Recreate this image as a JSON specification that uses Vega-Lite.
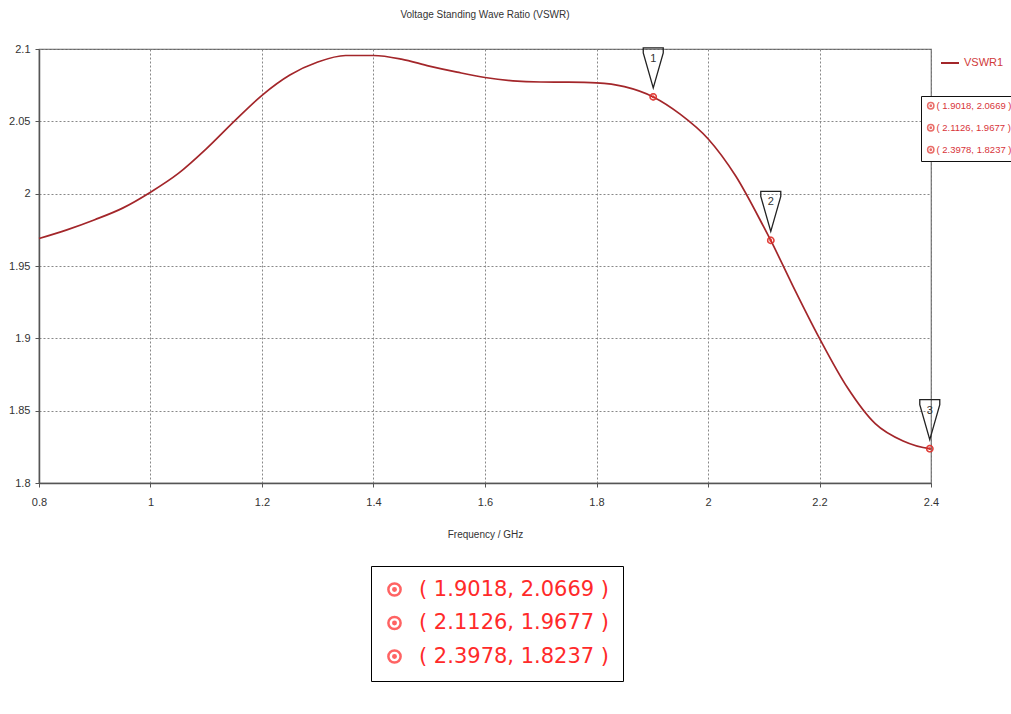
{
  "$schema": "https://vega.github.io/schema/vega-lite/v6.json",
  "width": 892,
  "height": 434,
  "autosize": {"type": "none"},
  "padding": {"left": 39, "top": 49, "right": 80, "bottom": 231},
  "background": "white",
  "title": {
    "text": "Voltage Standing Wave Ratio (VSWR)",
    "font": "Liberation Sans",
    "fontSize": 10,
    "fontWeight": "normal",
    "color": "#333333",
    "anchor": "middle",
    "offset": 23
  },
  "datasets": {
    "curve": [
      {"f": 0.8, "vswr": 1.969},
      {"f": 0.85, "vswr": 1.975},
      {"f": 0.9, "vswr": 1.982},
      {"f": 0.95, "vswr": 1.990},
      {"f": 1.0, "vswr": 2.001},
      {"f": 1.05, "vswr": 2.014},
      {"f": 1.1, "vswr": 2.031},
      {"f": 1.15, "vswr": 2.050},
      {"f": 1.2, "vswr": 2.068},
      {"f": 1.25, "vswr": 2.082},
      {"f": 1.3, "vswr": 2.091},
      {"f": 1.35, "vswr": 2.0955},
      {"f": 1.4, "vswr": 2.0955},
      {"f": 1.45, "vswr": 2.093},
      {"f": 1.5, "vswr": 2.0882},
      {"f": 1.55, "vswr": 2.084},
      {"f": 1.6, "vswr": 2.0803},
      {"f": 1.65, "vswr": 2.078},
      {"f": 1.7, "vswr": 2.0772},
      {"f": 1.75, "vswr": 2.0771},
      {"f": 1.8, "vswr": 2.0766},
      {"f": 1.85, "vswr": 2.074},
      {"f": 1.9018, "vswr": 2.0669},
      {"f": 1.95, "vswr": 2.055},
      {"f": 2.0, "vswr": 2.038},
      {"f": 2.05, "vswr": 2.012},
      {"f": 2.1, "vswr": 1.977},
      {"f": 2.1126, "vswr": 1.9677},
      {"f": 2.15, "vswr": 1.938},
      {"f": 2.2, "vswr": 1.900},
      {"f": 2.25, "vswr": 1.866},
      {"f": 2.3, "vswr": 1.841},
      {"f": 2.35, "vswr": 1.829},
      {"f": 2.3978, "vswr": 1.8237},
      {"f": 2.4, "vswr": 1.8236}
    ],
    "markers": [
      {"marker": "1", "f": 1.9018, "vswr": 2.0669, "label": "( 1.9018, 2.0669 )"},
      {"marker": "2", "f": 2.1126, "vswr": 1.9677, "label": "( 2.1126, 1.9677 )"},
      {"marker": "3", "f": 2.3978, "vswr": 1.8237, "label": "( 2.3978, 1.8237 )"}
    ]
  },
  "layer": [
    {
      "data": {"name": "curve"},
      "mark": {"type": "line", "interpolate": "monotone", "strokeWidth": 1.7},
      "encoding": {
        "x": {
          "field": "f",
          "type": "quantitative",
          "scale": {"domain": [0.8, 2.4], "nice": false, "zero": false},
          "axis": {
            "values": [0.8, 1, 1.2, 1.4, 1.6, 1.8, 2, 2.2, 2.4],
            "format": "~g",
            "title": "Frequency / GHz",
            "titlePadding": 22,
            "labelPadding": 9,
            "labelFlush": false
          }
        },
        "y": {
          "field": "vswr",
          "type": "quantitative",
          "scale": {"domain": [1.8, 2.1], "nice": false, "zero": false},
          "axis": {
            "values": [1.8, 1.85, 1.9, 1.95, 2, 2.05, 2.1],
            "format": "~g",
            "title": null,
            "labelPadding": 5,
            "labelFlush": false
          }
        },
        "color": {
          "datum": "VSWR1",
          "type": "nominal",
          "scale": {"range": ["#a3262a"]},
          "legend": {
            "title": null,
            "orient": "none",
            "legendX": 901,
            "legendY": 4,
            "padding": 0,
            "symbolType": "stroke",
            "symbolSize": 324,
            "symbolStrokeWidth": 2,
            "labelFont": "Liberation Sans",
            "labelFontSize": 11,
            "labelColor": "#d03a3a",
            "labelOffset": 4
          }
        }
      }
    },
    {
      "data": {"name": "markers"},
      "mark": {"type": "point", "filled": false, "stroke": "#e0302a", "strokeWidth": 1.4, "size": 40},
      "encoding": {
        "x": {"field": "f", "type": "quantitative"},
        "y": {"field": "vswr", "type": "quantitative"},
        "shape": {
          "field": "label",
          "type": "nominal",
          "scale": {"range": [
            "M-1,0A1,1,0,1,0,1,0A1,1,0,1,0,-1,0ZM-0.2,0A0.2,0.2,0,1,0,0.2,0A0.2,0.2,0,1,0,-0.2,0Z",
            "M-1,0A1,1,0,1,0,1,0A1,1,0,1,0,-1,0ZM-0.2,0A0.2,0.2,0,1,0,0.2,0A0.2,0.2,0,1,0,-0.2,0Z",
            "M-1,0A1,1,0,1,0,1,0A1,1,0,1,0,-1,0ZM-0.2,0A0.2,0.2,0,1,0,0.2,0A0.2,0.2,0,1,0,-0.2,0Z"
          ]},
          "legend": {
            "title": null,
            "orient": "none",
            "legendX": 882,
            "legendY": 47,
            "padding": 5,
            "strokeColor": "#111111",
            "fillColor": "white",
            "symbolSize": 40,
            "symbolStrokeColor": "#e0302a",
            "symbolStrokeWidth": 1.5,
            "symbolFillColor": "transparent",
            "labelFont": "Liberation Sans",
            "labelFontSize": 9.5,
            "labelColor": "#d8343a",
            "labelOffset": 1,
            "rowPadding": 9,
            "labelLimit": 300
          }
        }
      }
    },
    {
      "data": {"name": "markers"},
      "mark": {"type": "point", "filled": false, "stroke": "#e0302a", "strokeWidth": 1.4, "size": 40},
      "encoding": {
        "x": {"field": "f", "type": "quantitative"},
        "y": {"field": "vswr", "type": "quantitative"},
        "shape": {
          "field": "label",
          "type": "nominal",
          "scale": {"range": [
            "M-1,0A1,1,0,1,0,1,0A1,1,0,1,0,-1,0ZM-0.2,0A0.2,0.2,0,1,0,0.2,0A0.2,0.2,0,1,0,-0.2,0Z",
            "M-1,0A1,1,0,1,0,1,0A1,1,0,1,0,-1,0ZM-0.2,0A0.2,0.2,0,1,0,0.2,0A0.2,0.2,0,1,0,-0.2,0Z",
            "M-1,0A1,1,0,1,0,1,0A1,1,0,1,0,-1,0ZM-0.2,0A0.2,0.2,0,1,0,0.2,0A0.2,0.2,0,1,0,-0.2,0Z"
          ]},
          "legend": {
            "title": null,
            "orient": "none",
            "legendX": 332,
            "legendY": 517,
            "padding": 13,
            "strokeColor": "#000000",
            "fillColor": "white",
            "symbolSize": 150,
            "symbolStrokeColor": "#ff2222",
            "symbolStrokeWidth": 2.5,
            "symbolFillColor": "transparent",
            "labelFont": "DejaVu Sans, sans-serif",
            "labelFontSize": 21,
            "labelColor": "#ff2a2a",
            "labelOffset": 14,
            "rowPadding": 10.5,
            "labelLimit": 400
          }
        }
      }
    },
    {
      "data": {"name": "markers"},
      "mark": {
        "type": "point",
        "shape": "M-0.5,-1L0.5,-1L0.5,-0.75L0,1L-0.5,-0.75Z",
        "size": 1600,
        "filled": true,
        "fill": "white",
        "fillOpacity": 0,
        "stroke": "#222222",
        "strokeWidth": 1.3,
        "yOffset": -29
      },
      "encoding": {
        "x": {"field": "f", "type": "quantitative"},
        "y": {"field": "vswr", "type": "quantitative"}
      }
    },
    {
      "data": {"name": "markers"},
      "mark": {
        "type": "text",
        "font": "Liberation Sans",
        "fontSize": 11,
        "color": "#333333",
        "baseline": "middle",
        "dy": -38
      },
      "encoding": {
        "x": {"field": "f", "type": "quantitative"},
        "y": {"field": "vswr", "type": "quantitative"},
        "text": {"field": "marker", "type": "nominal"}
      }
    }
  ],
  "resolve": {"scale": {"shape": "independent"}, "legend": {"shape": "independent"}},
  "config": {
    "view": {"stroke": "#666666", "strokeWidth": 1.2},
    "axis": {
      "labelFont": "Liberation Sans",
      "labelFontSize": 11,
      "labelColor": "#333333",
      "titleFont": "Liberation Sans",
      "titleFontSize": 10,
      "titleFontWeight": "normal",
      "titleColor": "#333333",
      "domainColor": "#555555",
      "domainWidth": 1.5,
      "tickColor": "#555555",
      "tickSize": 4,
      "gridColor": "#888888",
      "gridDash": [2, 2],
      "gridWidth": 1
    }
  }
}
